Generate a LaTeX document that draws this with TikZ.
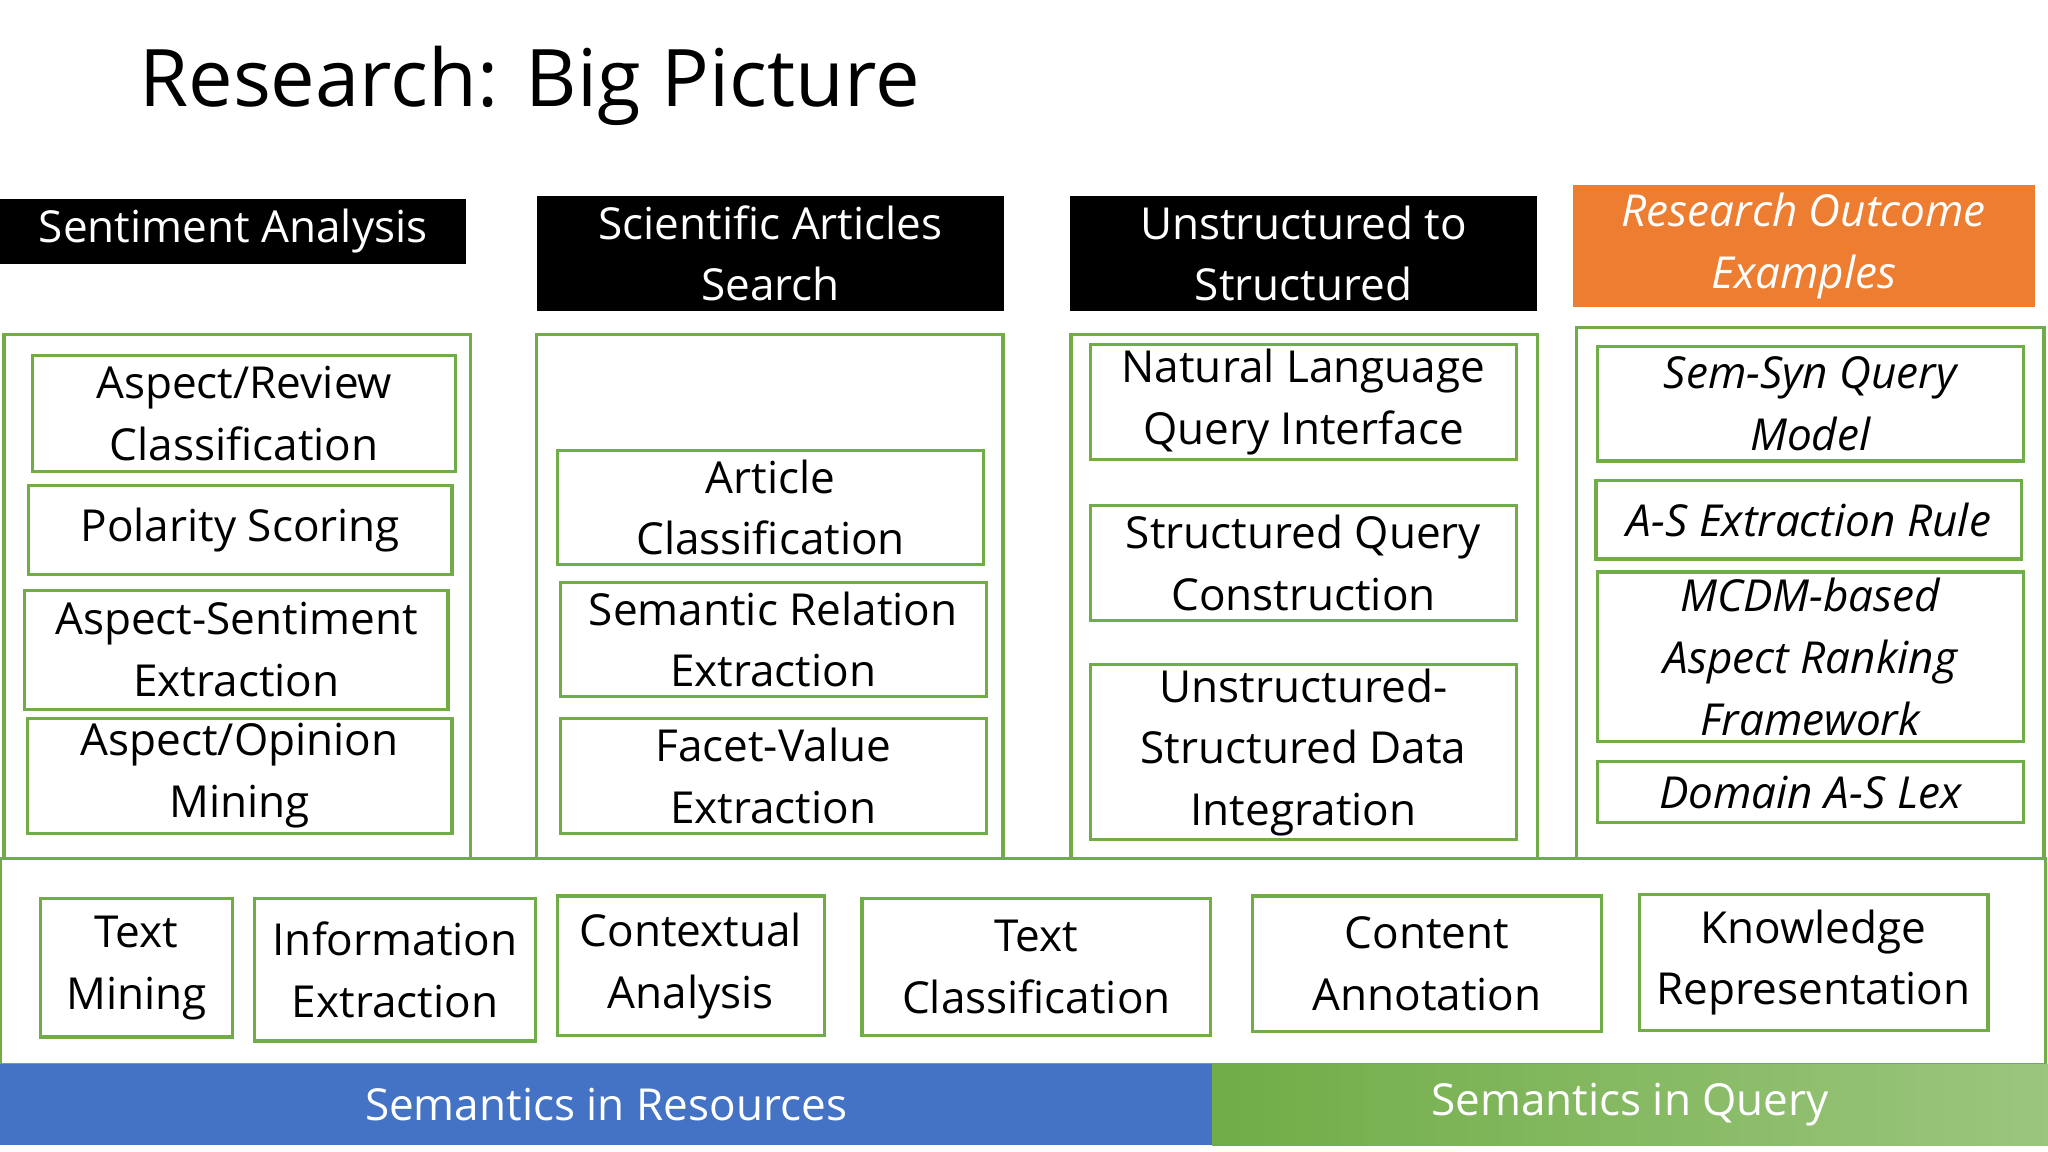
\documentclass[tikz,border=0pt]{standalone}
\usepackage{fontspec}
\setmainfont{Open Sans}
\usetikzlibrary{fit}
\definecolor{gr}{HTML}{70AD47}
\definecolor{bl}{HTML}{4472C4}
\definecolor{og}{HTML}{ED7D31}
\tikzset{
 x=0.01cm,y=-0.01cm,
 txt/.style={font=\fontsize{9.6}{13.4}\selectfont,align=center,inner sep=0pt},
 itxt/.style={txt,font=\fontsize{9.6}{13.4}\selectfont\itshape},
 box/.style={draw=gr,line width=0.7pt,inner sep=0pt},
 hdr/.style={fill=black,inner sep=0pt},
 frame/.style={draw=gr,line width=0.7pt,inner sep=0pt},
}
% \bx[shape style][text style]{name}{corners}{text}
\newcommand\bx[5]{\node[#1,fit={#4}] (#3) {};\node[#2] (#3t) at (#3.center) {#5};}
\begin{document}
\begin{tikzpicture}
\useasboundingbox (0,0) rectangle (1568,882);
\node[anchor=west,inner sep=0pt,font=\fontsize{17.3}{20}\selectfont] (title) at (106,66) {Research: Big Picture};
% headers
\bx{hdr}{txt,text=white}{h1}{(0,152)(357,202)}{Sentiment Analysis}
\bx{hdr}{txt,text=white}{h2}{(411,150)(769,238)}{Scientific Articles\\Search}
\bx{hdr}{txt,text=white}{h3}{(819,150)(1177,238)}{Unstructured to\\Structured}
\bx{hdr,fill=og}{itxt,text=white}{h4}{(1204,142)(1558,235)}{Research Outcome\\Examples}
% frames
\node[frame,fit={(3,256)(360,657)}] (f1) {};
\node[frame,fit={(411,256)(768,657)}] (f2) {};
\node[frame,fit={(820,256)(1177,657)}] (f3) {};
\node[frame,fit={(1207,251)(1565,657)}] (f4) {};
\node[frame,fit={(0,657)(1566,815)}] (f5) {};
% column 1
\bx{box}{txt}{a1}{(25,272)(349,361)}{Aspect/Review\\Classification}
\bx{box}{txt}{a2}{(22,372)(346,440)}{Polarity Scoring}
\bx{box}{txt}{a3}{(19,452)(343,543)}{Aspect-Sentiment\\Extraction}
\bx{box}{txt}{a4}{(21,550)(346,638)}{Aspect/Opinion\\Mining}
% column 2
\bx{box}{txt}{b1}{(427,345)(753,432)}{Article\\Classification}
\bx{box}{txt}{b2}{(429,446)(755,533)}{Semantic Relation\\Extraction}
\bx{box}{txt}{b3}{(429,550)(755,638)}{Facet-Value\\Extraction}
% column 3
\bx{box}{txt}{c1}{(835,264)(1161,352)}{Natural Language\\Query Interface}
\bx{box}{txt}{c2}{(835,387)(1161,475)}{Structured Query\\Construction}
\bx{box}{txt}{c3}{(835,509)(1161,643)}{Unstructured-\\Structured Data\\Integration}
% column 4
\bx{box}{itxt}{d1}{(1223,265)(1549,353)}{Sem-Syn Query\\Model}
\bx{box}{itxt}{d2}{(1222,368)(1548,428)}{A-S Extraction Rule}
\bx{box}{itxt}{d3}{(1223,438)(1549,568)}{MCDM-based\\Aspect Ranking\\Framework}
\bx{box}{itxt}{d4}{(1223,583)(1549,630)}{Domain A-S Lex}
% bottom row
\bx{box}{txt}{e1}{(31,688)(178,794)}{Text\\Mining}
\bx{box}{txt}{e2}{(195,688)(410,797)}{Information\\Extraction}
\bx{box}{txt}{e3}{(427,686)(631,793)}{Contextual\\Analysis}
\bx{box}{txt}{e4}{(660,688)(927,793)}{Text\\Classification}
\bx{box}{txt}{e5}{(959,686)(1226,790)}{Content\\Annotation}
\bx{box}{txt}{e6}{(1255,685)(1522,789)}{Knowledge\\Representation}
% bars
\bx{fill=bl,inner sep=0pt}{txt,text=white}{s1}{(0,815)(928,877)}{Semantics in Resources}
\shade[left color=gr,right color=gr!70!white] (928,815) rectangle (1568,877);
\node[inner sep=0pt,fit={(928,815)(1568,877)}] (s2) {};
\node[txt,text=white] (s2t) at (s2.center) {Semantics in Query};
\end{tikzpicture}
\end{document}
